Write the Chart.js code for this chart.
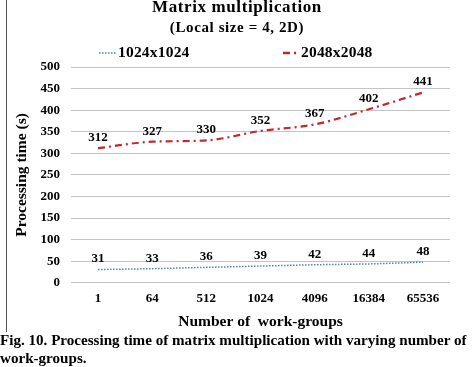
<!DOCTYPE html>
<html>
<head>
<meta charset="utf-8">
<script src="https://cdn.jsdelivr.net/npm/chart.js@4"></script>
<style>
  body { margin: 0; background: #fff; font-family: "Liberation Serif", serif; font-weight: bold; color: #000; }
  #wrap { position: relative; width: 474px; height: 367px; overflow: hidden; }
  #frame { position: absolute; left: 6px; top: 0; width: 1px; height: 332px; background: #555; }
  #box { position: absolute; left: 0; top: 0; width: 474px; height: 332px; }
  .t { position: absolute; left: 0; width: 474px; text-align: center; white-space: nowrap; }
  #title { top: -3px; font-size: 17px; letter-spacing: 0.6px; }
  #sub { top: 19px; font-size: 15px; letter-spacing: 0.6px; }
  .leg { position: absolute; top: 43px; font-size: 15.5px; white-space: nowrap; letter-spacing: 0.2px; }
  .leg svg { vertical-align: middle; margin-right: 1px; }
  #cap { position: absolute; left: 0; top: 331px; font-size: 15.1px; line-height: 18px; width: 480px; }
</style>
</head>
<body>
<div id="wrap">
  <div id="box"><canvas id="chart"></canvas></div>
  <div id="frame"></div>
  <div class="t" id="title">Matrix multiplication</div>
  <div class="t" id="sub">(Local size = 4, 2D)</div>
  <div class="leg" style="left:99px"><svg width="18" height="4"><line x1="0" y1="2" x2="18" y2="2" stroke="#4f81bd" stroke-width="1.5" stroke-dasharray="1.5,1.5"/></svg>1024x1024</div>
  <div class="leg" style="left:283px"><svg width="17" height="4"><line x1="0" y1="2" x2="17" y2="2" stroke="#c0282d" stroke-width="2.5" stroke-dasharray="7,4,2,4"/></svg>2048x2048</div>
  <div id="cap">Fig. 10. Processing time of matrix multiplication with varying number of<br>work-groups.</div>
</div>
<script>
const workGroups = ['1', '64', '512', '1024', '4096', '16384', '65536'];
const time1024 = [31, 33, 36, 39, 42, 44, 48];
const time2048 = [312, 327, 330, 352, 367, 402, 441];
const yTicks = [0, 50, 100, 150, 200, 250, 300, 350, 400, 450, 500];

const FONT = 'Liberation Serif';

// write each value just above its point
const valueLabels = {
    id: 'valueLabels',
    afterDatasetsDraw(chart) {
        const ctx = chart.ctx;
        ctx.save();
        ctx.font = 'bold 13px "' + FONT + '"';
        ctx.fillStyle = '#000';
        ctx.textAlign = 'center';
        ctx.textBaseline = 'bottom';
        chart.data.datasets.forEach((ds, i) => {
            chart.getDatasetMeta(i).data.forEach((pt, j) => {
                ctx.fillText(ds.data[j], pt.x, pt.y - 4);
            });
        });
        ctx.restore();
    }
};

const ctx = document.getElementById('chart').getContext('2d');
new Chart(ctx, {
    type: 'line',
    data: {
        labels: workGroups,
        datasets: [
            {
                label: '1024x1024',
                data: time1024,
                borderColor: '#4f81bd',
                borderWidth: 1.5,
                borderDash: [1.5, 1.5],
                pointRadius: 0,
                tension: 0.4,
                cubicInterpolationMode: 'monotone',
                fill: false
            },
            {
                label: '2048x2048',
                data: time2048,
                borderColor: '#c0282d',
                borderWidth: 2.2,
                borderDash: [7, 4, 2, 4],
                pointRadius: 0,
                tension: 0.4,
                cubicInterpolationMode: 'monotone',
                fill: false
            }
        ]
    },
    options: {
        responsive: true,
        maintainAspectRatio: false,
        animation: false,
        layout: { padding: { top: 67, left: 9, right: 24, bottom: 0 } },
        plugins: {
            legend: { display: false },
            tooltip: { enabled: false }
        },
        scales: {
            x: {
                offset: true,
                grid: { display: false, drawTicks: false },
                border: { display: false },
                ticks: { color: '#000', padding: 8, font: { family: FONT, size: 13, weight: 'bold' } },
                title: {
                    display: true,
                    text: 'Number of  work-groups',
                    color: '#000',
                    padding: { top: 0, bottom: 2 },
                    font: { family: FONT, size: 15.5, weight: 'bold', lineHeight: 1 }
                }
            },
            y: {
                min: 0,
                max: 500,
                afterBuildTicks: (axis) => { axis.ticks = yTicks.map(v => ({ value: v })); },
                afterFit: (axis) => { axis.width = 62; },
                grid: { color: '#c4c4c4', lineWidth: 1, drawTicks: false },
                border: { display: false },
                ticks: { color: '#000', padding: 11, font: { family: FONT, size: 13, weight: 'bold' } },
                title: {
                    display: true,
                    text: 'Processing time (s)',
                    color: '#000',
                    padding: { top: 4, bottom: 0 },
                    font: { family: FONT, size: 15.5, weight: 'bold' }
                }
            }
        }
    },
    plugins: [valueLabels]
});
</script>
</body>
</html>
